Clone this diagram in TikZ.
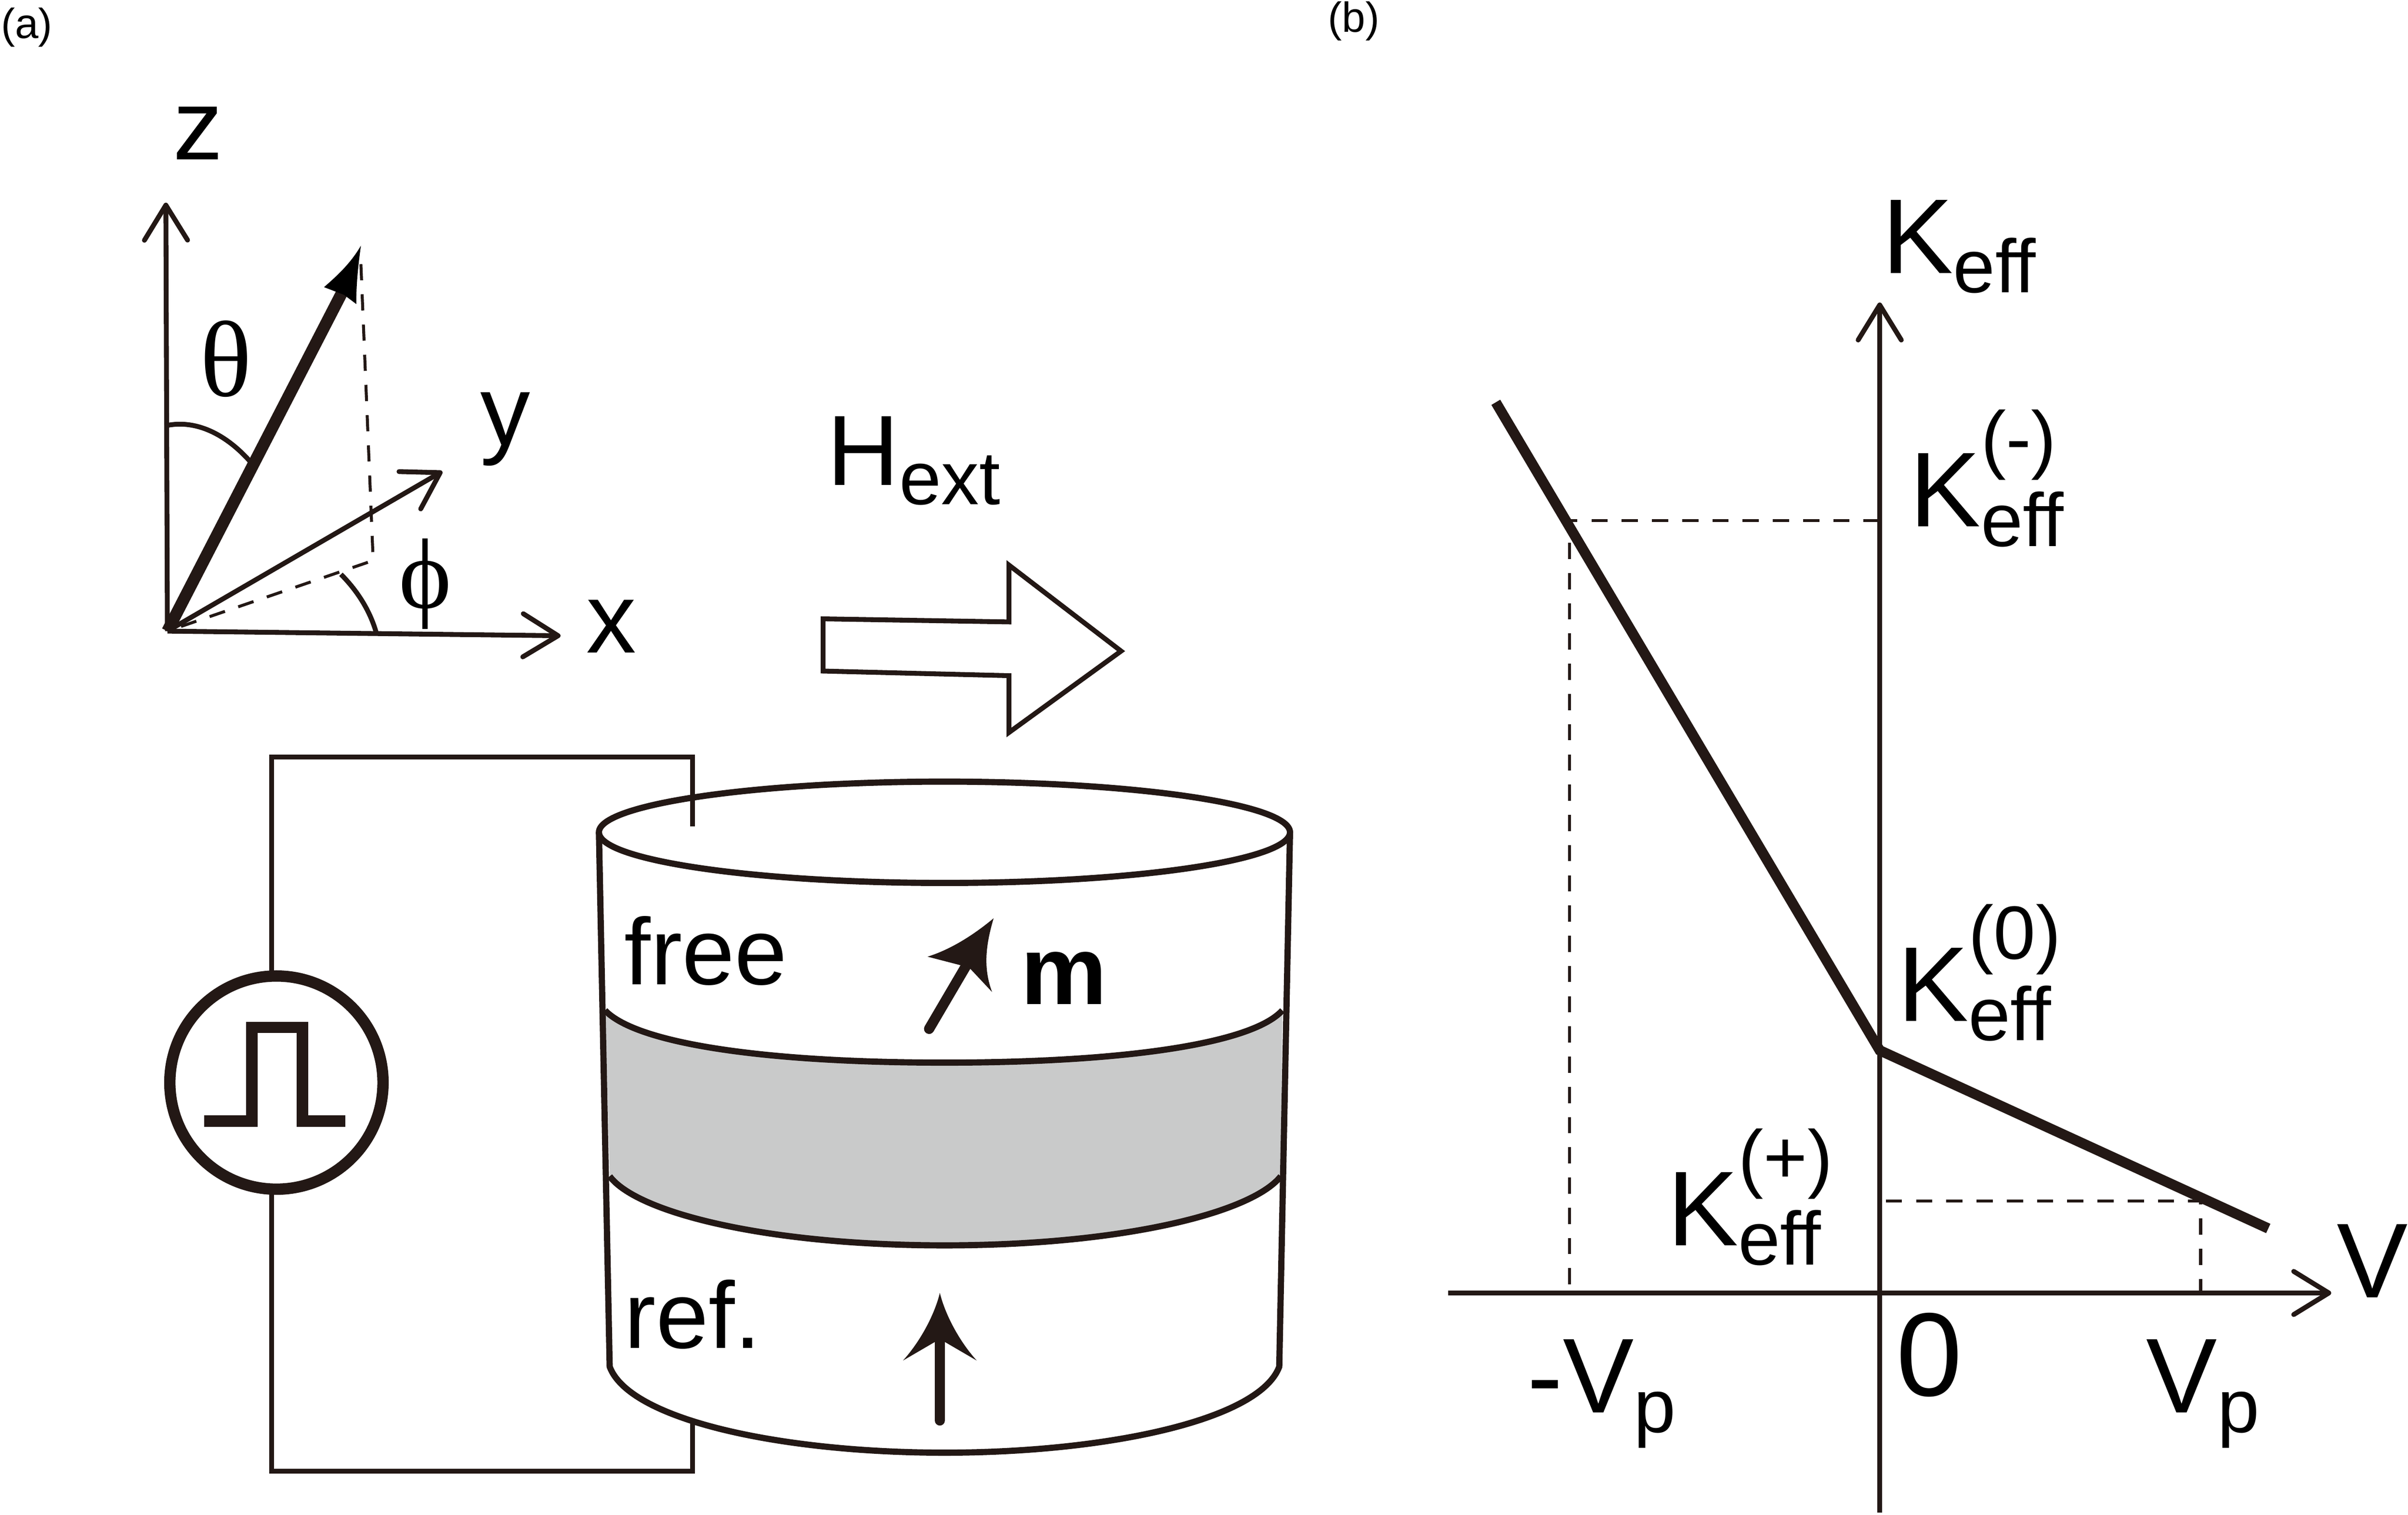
\documentclass[tikz,border=0pt]{standalone}
\usepackage{fontspec}
\setmainfont{Liberation Sans}
\newfontfamily\greekfont{Liberation Serif}
\usetikzlibrary{arrows.meta}

\definecolor{inkline}{RGB}{35,24,21}
\definecolor{layergray}{RGB}{201,202,202}

\newcommand{\subfont}{\fontsize{14}{14}\selectfont}
\newcommand{\Keff}{K\raisebox{-3.6pt}{\subfont eff}}
\newcommand{\Keffsup}[1]{K\rlap{\raisebox{-3.6pt}{\subfont eff}}\raisebox{11.5pt}{\subfont #1}}

\tikzset{
  thinline/.style={draw=inkline, line width=0.9pt},
  thickline/.style={draw=inkline, line width=1.9pt},
  axisline/.style={thinline, -{Straight Barb[length=6.5pt,width=8pt,round]}},
  dashline/.style={draw=inkline, line width=0.55pt, dash pattern=on 3pt off 2.6pt},
  biglabel/.style={inner sep=0pt, anchor=base west, font=\fontsize{19.7}{20}\selectfont, text=black},
  axislabel/.style={biglabel, font=\fontsize{18.5}{20}\selectfont},
  textlabel/.style={biglabel, font=\fontsize{17.5}{18}\selectfont},
  panellabel/.style={inner sep=0pt, anchor=base west, font=\fontsize{7.8}{8}\selectfont, text=black},
  greeklabel/.style={inner sep=0pt, anchor=base, font=\fontsize{20}{20}\selectfont\greekfont, text=black},
  pillarline/.style={draw=inkline, line width=1.15pt},
}

\begin{document}
\begin{tikzpicture}[x=0.1mm,y=-0.1mm]

\useasboundingbox (0,0) rectangle (1568,986.5);

% panel labels
\node[panellabel] (labA) at (0,25) {(a)};
\node[panellabel] (labB) at (864,21) {(b)};

% coordinate axes
\coordinate (o) at (109,411);
\coordinate (zEnd) at (108,132);
\coordinate (xEnd) at (365,414);
\coordinate (yEnd) at (288,307);
\coordinate (mEnd) at (224,188);
\coordinate (mTip) at (235,160);
\coordinate (pTop) at (235,172);
\coordinate (pFoot) at (243,365);

\draw[axisline] (o) -- (zEnd);
\draw[axisline] (o) -- (xEnd);
\draw[axisline] (o) -- (yEnd);
\draw[thickline, line width=2.2pt] (o) -- (mEnd);
\fill[black] (mTip) .. controls (228,172) and (219,180) .. (211,187) -- (224,192) -- (232,198) .. controls (232,185) and (233,175) .. (mTip);
\draw[dashline] (pTop) -- (pFoot) -- (o);
\draw[thinline] (109,277) .. controls (130,273) and (150,285) .. (165,303);
\draw[thinline] (222,374) .. controls (233,385) and (241,398) .. (245,412);

\node[axislabel] (labZ) at (112,104) {z};
\node[axislabel] (labX) at (381,425) {x};
\node[axislabel] (labY) at (312,290) {y};
\node[greeklabel] (labTheta) at (147,258) {θ};
\node[greeklabel, font=\fontsize{18.5}{20}\selectfont\greekfont] (labPhi) at (277,396) {ϕ};

% field arrow
\node[biglabel, font=\fontsize{18.5}{20}\selectfont] (labH) at (538,316) {H\raisebox{-3.6pt}{\subfont ext}};
\draw[thinline] (536,403) -- (657,405) -- (657,368) -- (730,424) -- (657,477) -- (657,440) -- (536,437) -- cycle;

% pulse source and wires
\node[circle, draw=inkline, line width=2.1pt, minimum size=39.5pt, inner sep=0pt] (src) at (180,705) {};
\coordinate (srcTop) at (177,635);
\coordinate (srcBot) at (177,775);
\coordinate (wireTop) at (451,538);
\coordinate (wireBot) at (451,925);
\draw[thinline] (srcTop) -- (177,493) -- (451,493) -- (wireTop);
\draw[thinline] (srcBot) -- (177,958) -- (451,958) -- (wireBot);
\draw[draw=inkline, line width=2.1pt] (133,730) -- (164,730) -- (164,669) -- (197,669) -- (197,730) -- (225,730);

% pillar
\fill[layergray] (394,658) .. controls (415,680) and (500,692) .. (615,692) .. controls (730,692) and (815,680) .. (835,658) -- (834,766) .. controls (815,790) and (730,811) .. (615,811) .. controls (500,811) and (415,790) .. (397,766) -- cycle;
\draw[pillarline] (615,542) ellipse (225 and 33);
\draw[pillarline] (390,542) -- (397,890) .. controls (410,925) and (510,946) .. (615,946) .. controls (720,946) and (820,925) .. (833,890) -- (840,542);
\draw[pillarline] (394,658) .. controls (415,680) and (500,692) .. (615,692) .. controls (730,692) and (815,680) .. (835,658);
\draw[pillarline] (397,766) .. controls (415,790) and (500,811) .. (615,811) .. controls (730,811) and (815,790) .. (834,766);

\node[textlabel] (labFree) at (406,641) {free};
\node[textlabel, font=\fontsize{18}{18}\selectfont\bfseries] (labM) at (664,654) {m};
\node[textlabel] (labRef) at (406,878) {ref.};

% layer moments
\coordinate (mFoot) at (605,670);
\coordinate (mHead) at (632,624);
\draw[thickline, line cap=round] (mFoot) -- (mHead);
\fill[inkline] (647,598) .. controls (635,608) and (620,618) .. (604,623) -- (631,630) -- (646,646) .. controls (640,630) and (642,615) .. (647,598);
\coordinate (rFoot) at (612,925);
\coordinate (rHead) at (612,870);
\draw[thickline, line cap=round] (rFoot) -- (rHead);
\fill[inkline] (612,842) .. controls (608,858) and (598,875) .. (588,886) -- (612,872) -- (636,886) .. controls (626,875) and (616,858) .. (612,842);

% anisotropy plot
\coordinate (vStart) at (943,842);
\coordinate (vEnd) at (1518,842);
\coordinate (kStart) at (1224,985);
\coordinate (kEnd) at (1224,197);
\coordinate (kZero) at (1224,684);
\draw[axisline] (vStart) -- (vEnd);
\draw[axisline] (kStart) -- (kEnd);
\draw[thickline] (974,262) -- (kZero) -- (1477,800);
\draw[dashline] (1224,339) -- (1022,339) -- (1022,842);
\draw[dashline] (1228,782) -- (1433,782) -- (1433,842);

\node[biglabel] (labKeff) at (1225,178) {\Keff};
\node[biglabel] (labKminus) at (1243,343) {\Keffsup{(-)}};
\node[biglabel] (labKzero) at (1235,665) {\Keffsup{(0)}};
\node[biglabel] (labKplus) at (1085,811) {\Keffsup{(+)}};
\node[biglabel] (labV) at (1521,845) {V};
\node[biglabel, font=\fontsize{22}{22}\selectfont] (labO) at (1234,909) {0};
\node[biglabel] (labMinusVp) at (994,920) {-V\raisebox{-3.6pt}{\subfont p}};
\node[biglabel] (labVp) at (1397,920) {V\raisebox{-3.6pt}{\subfont p}};

\end{tikzpicture}
\end{document}
